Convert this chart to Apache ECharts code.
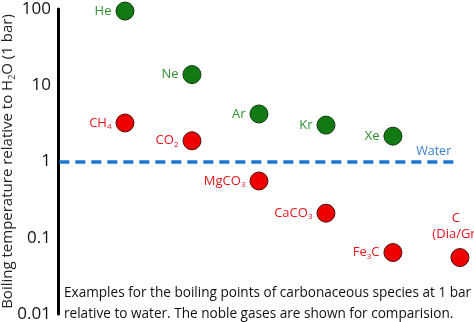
<!DOCTYPE html>
<html><head><meta charset="utf-8">
<script src="https://cdn.jsdelivr.net/npm/echarts@6/dist/echarts.min.js"></script>
<style>html,body{margin:0;padding:0;background:#fff}#c{width:474px;height:322px}</style>
</head><body><div id="c"></div>
<script>
// data
const nobleNames = ['He', 'Ne', 'Ar', 'Kr', 'Xe'];
const nobleX = [1, 2, 3, 4, 5];
const nobleValues = [94, 13.8, 4.2, 3.0, 2.15];
const carbonNames = ['CH4', 'CO2', 'MgCO3', 'CaCO3', 'Fe3C', 'C'];
const carbonX = [1, 2, 3, 4, 5, 6];
const carbonValues = [3.2, 1.87, 0.555, 0.21, 0.064, 0.055];
const waterValue = 1;
const yTicks = [0.01, 0.1, 1, 10, 100];

const FONT = '"Open Sans", "Noto Sans", sans-serif';
const green = '#2f8f2f', red = '#e8141c';

function richLabel(name, cls) {
  const map = {
    'CH4': `{${cls}|CH}{s${cls}|4}`,
    'CO2': `{${cls}|CO}{s${cls}|2}`,
    'MgCO3': `{${cls}|MgCO}{s${cls}|3}`,
    'CaCO3': `{${cls}|CaCO}{s${cls}|3}`,
    'Fe3C': `{${cls}|Fe}{s${cls}|3}{${cls}|C}`,
    'C': `{${cls}|C}\n{${cls}|(Dia/Gr)}`
  };
  return map[name] || `{${cls}|${name}}`;
}
const richStyles = {
  g: {color: green, fontSize: 13, fontFamily: FONT},
  sg: {color: green, fontSize: 8, fontFamily: FONT, verticalAlign: 'bottom', padding: [8, 0, 0, 0]},
  r: {color: red, fontSize: 13, fontFamily: FONT, lineHeight: 16},
  sr: {color: red, fontSize: 8, fontFamily: FONT, verticalAlign: 'bottom', padding: [8, 0, 0, 0]}
};

const nobleData = nobleNames.map((n, i) => ({name: n, value: [nobleX[i], nobleValues[i]]}));
const carbonData = carbonNames.map((n, i) => {
  const d = {name: n, value: [carbonX[i], carbonValues[i]]};
  if (n === 'C') d.label = {position: 'top', distance: 6, align: 'center', offset: [-4, 0]};
  return d;
});

const chart = echarts.init(document.getElementById('c'));
chart.setOption({
  animation: false,
  grid: {left: 58, right: 0, top: 9, bottom: 8, containLabel: false, outerBoundsMode: 'none'},
  xAxis: {type: 'value', min: 0, max: 6.21, show: false},
  yAxis: {
    type: 'log', logBase: 10, min: 0.01, max: 100,
    axisLine: {show: true, lineStyle: {color: '#000', width: 3}},
    axisTick: {show: false},
    splitLine: {show: false},
    axisLabel: {color: '#111', fontSize: 17, fontFamily: FONT, margin: 7,
      formatter: v => { const t = yTicks.find(x => Math.abs(Math.log10(x) - Math.log10(v)) < 1e-6); return t === undefined ? '' : String(t); }},
    name: '{a|Boiling temperature relative to H}{s|2}{a|O (1 bar)}',
    nameLocation: 'middle', nameGap: 41, nameRotate: 90, nameMoveOverlap: false,
    nameTextStyle: {rich: {
      a: {fontSize: 15, color: '#222', fontFamily: FONT, lineHeight: 18},
      s: {fontSize: 9, color: '#222', fontFamily: FONT, verticalAlign: 'bottom', padding: [10, 0, 0, 0]}
    }}
  },
  series: [
    {
      type: 'scatter', data: nobleData, symbolSize: 18,
      itemStyle: {color: '#137a13', borderColor: '#0d3b0d', borderWidth: 1, opacity: 1},
      label: {show: true, position: 'left', distance: 4, formatter: p => richLabel(p.name, 'g'), rich: richStyles},
      z: 3
    },
    {
      type: 'scatter', data: carbonData, symbolSize: 18,
      itemStyle: {color: '#ee0000', borderColor: '#4a1010', borderWidth: 1, opacity: 1},
      label: {show: true, position: 'left', distance: 4, formatter: p => richLabel(p.name, 'r'), rich: richStyles},
      markLine: {
        silent: true, symbol: 'none',
        lineStyle: {color: '#1b78d0', width: 3.5, type: [10, 6]},
        label: {show: true, position: 'insideEndTop', formatter: 'Water', color: '#3a82d0', fontSize: 12.5, fontFamily: FONT, distance: 4},
        data: [[{coord: [0.02, waterValue]}, {coord: [5.93, waterValue]}]]
      },
      z: 3
    }
  ],
  graphic: [
    {type: 'text', left: 64, top: 283, style: {text: 'Examples for the boiling points of carbonaceous species at 1 bar\nrelative to water. The noble gases are shown for comparision.', font: '13.6px ' + FONT, fill: '#111', lineHeight: 21}}
  ]
});
</script></body></html>
